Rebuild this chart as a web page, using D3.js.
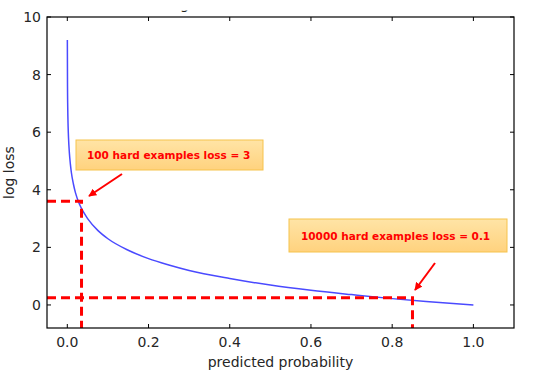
<!DOCTYPE html>
<html>
<head>
<meta charset="utf-8">
<script src="https://cdn.jsdelivr.net/npm/d3@7"></script>
<style>
  body { margin: 0; background: #fff; }
  text { font-family: "DejaVu Sans", sans-serif; }
</style>
</head>
<body>
<svg id="canvas" width="541" height="385"></svg>
<script>
// curve: predicted probability -> log loss
var probs = [0.0001, 0.0005, 0.001, 0.002, 0.003, 0.005, 0.0075, 0.01, 0.015, 0.02, 0.03, 0.04, 0.05, 0.075, 0.1, 0.15, 0.2, 0.25, 0.3, 0.4, 0.5, 0.6, 0.7, 0.8, 0.9, 1.0]
var losses = [9.2, 7.6, 6.9, 6.2, 5.8, 5.3, 4.9, 4.6, 4.2, 3.9, 3.5, 3.22, 3.0, 2.59, 2.3, 1.9, 1.61, 1.39, 1.2, 0.92, 0.69, 0.51, 0.36, 0.22, 0.105, 0.0]

// dashed guide corners
var guideProbs = [0.035, 0.85]
var guideLosses = [3.6, 0.25]

var xTicks = [0.0, 0.2, 0.4, 0.6, 0.8, 1.0]
var yTicks = [0, 2, 4, 6, 8, 10]

var notes = ['100 hard examples loss = 3', '10000 hard examples loss = 0.1']

;(function (d3) {
  'use strict'
  var svg = d3.select('#canvas')
  var mLeft = 47, mRight = 514, mTop = 17, mBottom = 328

  var x = d3.scaleLinear().domain([-0.05, 1.1]).range([mLeft, mRight])
  var y = d3.scaleLinear().domain([-0.8, 10]).range([mBottom, mTop])

  var defs = svg.append('defs')
  var grad = defs.append('linearGradient').attr('id', 'boxfill')
    .attr('x1', 0).attr('y1', 0).attr('x2', 0).attr('y2', 1)
  grad.append('stop').attr('offset', '0%').attr('stop-color', '#ffe4a6')
  grad.append('stop').attr('offset', '100%').attr('stop-color', '#ffd27e')
  defs.append('marker').attr('id', 'head')
    .attr('viewBox', '0 0 10 10').attr('refX', 9).attr('refY', 5)
    .attr('markerWidth', 4).attr('markerHeight', 4).attr('orient', 'auto')
    .append('path').attr('d', 'M0,0 L10,5 L0,10 z').attr('fill', '#ff0000')
  defs.append('clipPath').attr('id', 'plotclip')
    .append('rect').attr('x', mLeft).attr('y', mTop)
    .attr('width', mRight - mLeft).attr('height', mBottom - mTop)
  // the source image was cropped just above the axes
  defs.append('clipPath').attr('id', 'cropclip')
    .append('rect').attr('x', 0).attr('y', 10.5).attr('width', 541).attr('height', 375)

  // title, mostly cut off by the crop, only a descender shows
  svg.append('text').attr('x', 164).attr('y', 9)
    .attr('clip-path', 'url(#cropclip)')
    .attr('font-size', 14).attr('fill', '#222')
    .text('Log loss')

  var plot = svg.append('g').attr('clip-path', 'url(#plotclip)')

  var pts = probs.map(function (p, i) { return [p, losses[i]] })
  plot.append('path').datum(pts)
    .attr('fill', 'none').attr('stroke', '#4a4aff').attr('stroke-width', 1.5)
    .attr('d', d3.line().x(function (d) { return x(d[0]) }).y(function (d) { return y(d[1]) })
      .curve(d3.curveMonotoneX))

  guideProbs.forEach(function (p, i) {
    var l = guideLosses[i]
    plot.append('path')
      .attr('d', 'M' + x(-0.05) + ',' + y(l) + 'L' + x(p) + ',' + y(l) + 'L' + x(p) + ',' + y(-0.8))
      .attr('fill', 'none').attr('stroke', '#ff0000').attr('stroke-width', 3)
      .attr('stroke-dasharray', '9,5')
  })

  // ticks, inward on all four sides
  var tickLen = 4
  xTicks.forEach(function (t) {
    svg.append('line').attr('x1', x(t)).attr('x2', x(t)).attr('y1', mBottom).attr('y2', mBottom - tickLen).attr('stroke', '#000')
    svg.append('line').attr('x1', x(t)).attr('x2', x(t)).attr('y1', mTop).attr('y2', mTop + tickLen).attr('stroke', '#000')
    svg.append('text').attr('x', x(t)).attr('y', 347).attr('text-anchor', 'middle')
      .attr('font-size', 14).attr('fill', '#262626').text(d3.format('.1f')(t))
  })
  yTicks.forEach(function (t) {
    svg.append('line').attr('x1', mLeft).attr('x2', mLeft + tickLen).attr('y1', y(t)).attr('y2', y(t)).attr('stroke', '#000')
    svg.append('line').attr('x1', mRight).attr('x2', mRight - tickLen).attr('y1', y(t)).attr('y2', y(t)).attr('stroke', '#000')
    svg.append('text').attr('x', 41).attr('y', y(t) + 5).attr('text-anchor', 'end')
      .attr('font-size', 14).attr('fill', '#262626').text(t)
  })

  svg.append('rect').attr('x', mLeft).attr('y', mTop)
    .attr('width', mRight - mLeft).attr('height', mBottom - mTop)
    .attr('fill', 'none').attr('stroke', '#000').attr('stroke-width', 1.2)

  svg.append('text').attr('x', (mLeft + mRight) / 2).attr('y', 367).attr('text-anchor', 'middle')
    .attr('font-size', 14).attr('fill', '#262626').text('predicted probability')
  svg.append('text').attr('transform', 'translate(14,' + ((mTop + mBottom) / 2) + ') rotate(-90)')
    .attr('text-anchor', 'middle').attr('font-size', 14).attr('fill', '#262626').text('log loss')

  // annotation boxes and arrows
  var boxes = [
    { x: 76, y: 140, w: 187, h: 30, tx: 87, arrow: [122, 174, 89, 196] },
    { x: 289, y: 219, w: 218, h: 33, tx: 301, arrow: [435, 263, 415, 290] }
  ]
  boxes.forEach(function (b, i) {
    svg.append('rect').attr('x', b.x).attr('y', b.y).attr('width', b.w).attr('height', b.h)
      .attr('fill', 'url(#boxfill)').attr('stroke', '#f6c34c').attr('stroke-width', 1)
    svg.append('text').attr('x', b.tx).attr('y', b.y + b.h / 2 + 4)
      .attr('font-family', '"Open Sans", sans-serif').attr('font-weight', 'bold')
      .attr('font-size', 10.5).attr('fill', '#ff0000').text(notes[i])
    svg.append('line').attr('x1', b.arrow[0]).attr('y1', b.arrow[1])
      .attr('x2', b.arrow[2]).attr('y2', b.arrow[3])
      .attr('stroke', '#ff0000').attr('stroke-width', 2).attr('marker-end', 'url(#head)')
  })
})(d3)
</script>
</body>
</html>
